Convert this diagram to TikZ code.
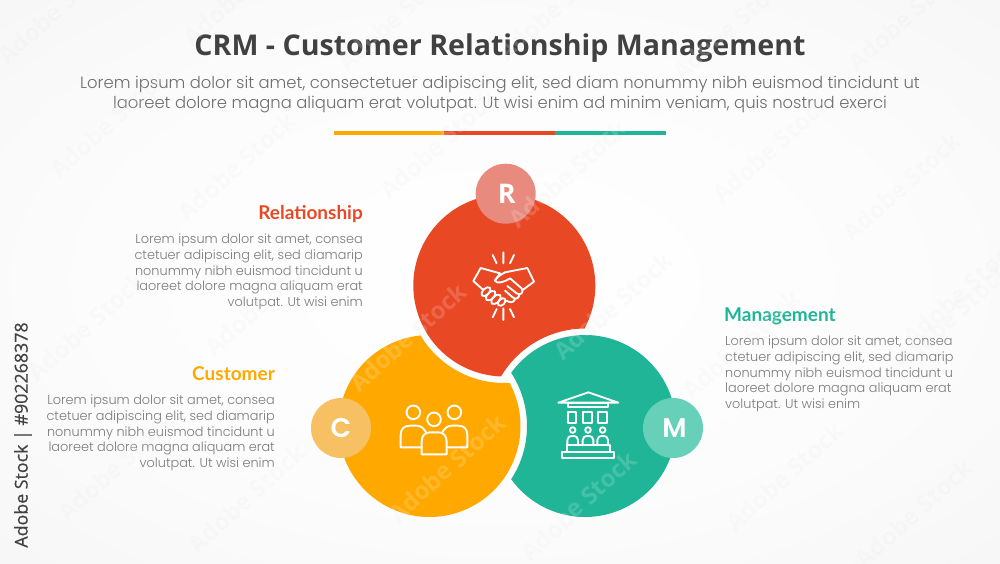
\documentclass[tikz,border=0pt]{standalone}
\usepackage{fontspec}
\setmainfont{Open Sans}
\newfontfamily\popfont{Poppins Light}
\newfontfamily\popsb{Poppins SemiBold}
\newfontfamily\latofont{Lato}
\newfontfamily\ossb{Open Sans}[FakeBold=0.5]
\definecolor{cR}{HTML}{E94825}
\definecolor{cC}{HTML}{FFA900}
\definecolor{cM}{HTML}{1FB596}
\definecolor{bR}{HTML}{E88B7E}
\definecolor{bC}{HTML}{F6C063}
\definecolor{bM}{HTML}{66D1B8}
\definecolor{bg0}{HTML}{FFFFFF}
\definecolor{bg1}{HTML}{FCFCFC}
\definecolor{bg2}{HTML}{F7F7F7}
\definecolor{bg3}{HTML}{F2F2F2}
\definecolor{bg4}{HTML}{ECECEC}
\definecolor{titlecol}{HTML}{414141}
\definecolor{subcol}{HTML}{6E6E6E}
\definecolor{bodycol}{HTML}{7B7B7B}
\pgfdeclareradialshading{bgshade}{\pgfpoint{0bp}{0bp}}{color(0bp)=(bg0); color(20bp)=(bg1); color(35bp)=(bg2); color(50bp)=(bg3); color(70bp)=(bg4); color(100bp)=(bg4)}
\newcommand{\wmlist}{1/107/122,2/235/165,3/437/143,4/55/8,5/240/-10,6/395/15,7/567/173,8/730/25,9/770/147,10/900/185,11/905/15,12/555/5,13/612/305,14/960/290,15/85/325,16/115/465,17/245/497,18/262/300,19/408/337,20/447/468,21/578/505,22/740/343,23/783/475,24/912/512,25/950/315}
\tikzset{
  titletext/.style={inner sep=0pt,text=titlecol,font=\fontsize{28.6}{34}\selectfont\bfseries},
  subtext/.style={inner sep=0pt,align=center,text=subcol,font=\fontsize{16.4}{20}\selectfont\popfont},
  headtext/.style={inner sep=0pt,font=\fontsize{19}{21}\selectfont\latofont\bfseries},
  bodyr/.style={inner sep=0pt,anchor=north east,align=right,text=bodycol,font=\fontsize{12.85}{15.7}\selectfont\popfont},
  bodyl/.style={inner sep=0pt,anchor=north west,align=left,text=bodycol,font=\fontsize{12.85}{15.7}\selectfont\popfont},
  badge/.style={circle,minimum size=60pt,inner sep=0pt,text=white},
  bar/.style={line width=3.6pt},
  ic/.style={draw=white,line width=1.85pt,line join=round,line cap=round,fill=none},
  sidetext/.style={inner sep=0pt,rotate=90,text=titlecol,font=\fontsize{17.8}{21}\selectfont\ossb},
  wmlight/.style={inner sep=0pt,rotate=42,text=white,text opacity=0.17,font=\fontsize{24}{28}\selectfont\bfseries},
  wmshade/.style={inner sep=0pt,rotate=42,text=black,text opacity=0.015,font=\fontsize{24}{28}\selectfont\bfseries},
}
\begin{document}
\begin{tikzpicture}[x=1pt,y=-1pt]
\useasboundingbox (0,0) rectangle (1000,563);
\shade[shading=bgshade] (0,0) rectangle (1000,563);

\foreach \i/\wx/\wy in \wmlist {
  \node[wmshade] (wmb\i) at (\wx+1.5,\wy+1.5) {Adobe Stock};
}

\node[titletext] (title) at (500,48) {CRM - Customer Relationship Management};
\node[subtext] (sub) at (500,95) {Lorem ipsum dolor sit amet, consectetuer adipiscing elit, sed diam nonummy nibh euismod tincidunt ut\\laoreet dolore magna aliquam erat volutpat. Ut wisi enim ad minim veniam, quis nostrud exerci};

\coordinate (b0) at (334,133);
\coordinate (b1) at (444,133);
\coordinate (b2) at (555,133);
\coordinate (b3) at (666,133);
\draw[bar,cC] (b0) -- (b1);
\draw[bar,cR] (b1) -- (b2);
\draw[bar,cM] (b2) -- (b3);

\begin{scope}[shift={(0,563)},y=1pt]
  \coordinate (cenR) at (504.3,277.5);
  \coordinate (cenC) at (429.5,137);
  \coordinate (cenM) at (585,137);
  \fill[cC] (cenC) ++(95.63:91) arc[start angle=95.63,end angle=388.31,radius=91pt]
     arc[start angle=273.13,end angle=210.81,radius=97.5pt] -- cycle;
  \fill[cR] (cenR) ++(-28.21:91) arc[start angle=-28.21,end angle=267.95,radius=91pt]
     arc[start angle=149.43,end angle=90.31,radius=97.5pt] -- cycle;
  \fill[cM] (cenM) ++(144.2:91) arc[start angle=144.2,end angle=-144.2,radius=91pt]
     arc[start angle=-33.07,end angle=33.07,radius=97.5pt] -- cycle;
\end{scope}

\node[badge,fill=bR,font=\fontsize{27}{30}\selectfont\bfseries] (badgeR) at (505.7,193.7) {\kern2pt R};
\node[badge,fill=bC,font=\fontsize{27}{30}\selectfont\popsb] (badgeC) at (341,428) {C};
\node[badge,fill=bM,font=\fontsize{27}{30}\selectfont\popsb] (badgeM) at (673,428) {\kern3pt M};

% handshake
\begin{scope}[shift={(450,240)},x=0.3333pt,y=-0.3333pt]
  \draw[ic] (128,45)--(140,70) (160,37)--(160,70) (192,45)--(180,70);
  \draw[ic] (128,232)--(140,207) (160,205)--(160,240) (192,232)--(180,207);
  \draw[ic] (100,150)--(70,123)--(92,84)--(150,100);
  \draw[ic] (218,150)--(252,125)--(232,84)--(165,97)
     .. controls (150,105) and (135,115) .. (135,122)
     .. controls (140,132) and (160,128) .. (180,115)--(215,145)
     .. controls (222,158) and (212,168) .. (200,160)--(172,138);
  \draw[ic] (208,162) .. controls (208,175) and (198,180) .. (188,172)--(165,152);
  \draw[ic] (195,178) .. controls (190,190) and (178,188) .. (170,182);
  \draw[ic] (150,100)--(135,122);
  \draw[ic,rotate around={-45:(108,155)}] (108,155) ellipse[x radius=3.2pt,y radius=5.5pt];
  \draw[ic,rotate around={-45:(122,167)}] (122,167) ellipse[x radius=3.2pt,y radius=6pt];
  \draw[ic,rotate around={-45:(138,178)}] (138,178) ellipse[x radius=3.2pt,y radius=6pt];
  \draw[ic,rotate around={-45:(155,186)}] (155,186) ellipse[x radius=3pt,y radius=4.5pt];
\end{scope}

% people
\begin{scope}[shift={(380,385)},x=0.3333pt,y=-0.3333pt]
  \draw[ic] (100,82) circle[radius=6.8pt] (162,103) circle[radius=6.8pt] (223,82) circle[radius=6.8pt];
  \draw[ic] (125,208)--(125,170) .. controls (125,152) and (135,142) .. (150,142)--(175,142) .. controls (190,142) and (200,152) .. (200,170)--(200,208)--cycle;
  \draw[ic] (125,187)--(62,187)--(62,150) .. controls (62,132) and (72,122) .. (90,122)--(110,122) .. controls (122,122) and (132,130) .. (138,142);
  \draw[ic] (200,187)--(262,187)--(262,150) .. controls (262,132) and (252,122) .. (235,122)--(215,122) .. controls (203,122) and (193,130) .. (187,142);
\end{scope}

% institution
\begin{scope}[shift={(540,380)},x=0.3333pt,y=-0.3333pt]
  \draw[ic] (55,68)--(145,37)--(235,68)--cycle;
  \draw[ic] (85,68) rectangle (205,82);
  \draw[ic] (85,95) rectangle (108,130) (130,95) rectangle (155,130) (175,95) rectangle (200,130);
  \draw[ic] (98,150) circle[radius=2.8pt] (144,150) circle[radius=2.8pt] (188,150) circle[radius=2.8pt];
  \foreach \cx in {98,144,188}{
    \draw[ic] (\cx-16,196)--(\cx-16,180) .. controls (\cx-16,172) and (\cx-10,168) .. (\cx,168) .. controls (\cx+10,168) and (\cx+16,172) .. (\cx+16,180)--(\cx+16,196);
  }
  \draw[ic] (80,196)--(210,196)--(210,216) (80,196)--(80,216);
  \draw[ic] (67,216) rectangle (222,235);
\end{scope}

\node[headtext,text=cR,anchor=east] (hR) at (363,214) {Relationship};
\node[bodyr] (tR) at (363,234) {Lorem ipsum dolor sit amet, consea\\ctetuer adipiscing elit, sed diamarip\\nonummy nibh euismod tincidunt u\\laoreet dolore magna aliquam erat\\volutpat. Ut wisi enim};
\node[headtext,text=cC,anchor=east] (hC) at (275,374) {Customer};
\node[bodyr] (tC) at (275,395) {Lorem ipsum dolor sit amet, consea\\ctetuer adipiscing elit, sed diamarip\\nonummy nibh euismod tincidunt u\\laoreet dolore magna aliquam erat\\volutpat. Ut wisi enim};
\node[headtext,text=cM,anchor=west] (hM) at (724,316) {Management};
\node[bodyl] (tM) at (725,336) {Lorem ipsum dolor sit amet, consea\\ctetuer adipiscing elit, sed diamarip\\nonummy nibh euismod tincidunt u\\laoreet dolore magna aliquam erat\\volutpat. Ut wisi enim};

\node[sidetext] (side) at (23,435) {Adobe Stock | \#902268378};

\foreach \i/\wx/\wy in \wmlist {
  \node[wmlight] (wmt\i) at (\wx,\wy) {Adobe Stock};
}
\end{tikzpicture}
\end{document}
